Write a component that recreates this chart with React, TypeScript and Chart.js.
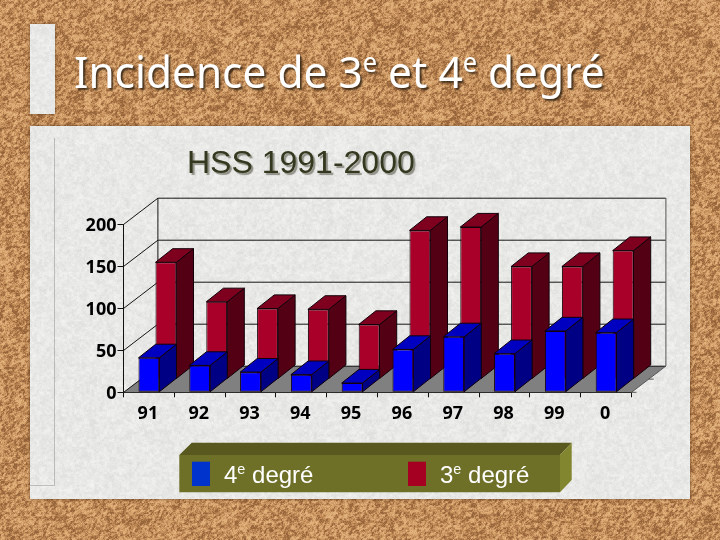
import React, { useEffect, useRef } from "react";
import { Chart, registerables } from "chart.js";

Chart.register(...registerables);

const categories = ["91", "92", "93", "94", "95", "96", "97", "98", "99", "0"];
const quatrieme = [41, 32, 24, 21, 11, 51, 66, 46, 73, 71];
const troisieme = [139, 92, 84, 83, 65, 177, 181, 134, 134, 153];
const yTicks = [0, 50, 100, 150, 200];
const seriesNames = ["4", "3"];
const slideTitle = ["Incidence de 3", " et 4", " degré"];
const chartTitle = "HSS 1991-2000";

const AREA = { left: 123.5, right: 631.5, top: 224.3, bottom: 392.3 };
const WALL = { dx: 34.4, dy: 26.3 };

function hash(x: number, y: number, s: number) {
  let h = (x * 374761393 + y * 668265263 + s * 2147483647) | 0;
  h = Math.imul(h ^ (h >>> 13), 1274126177);
  return ((h ^ (h >>> 16)) >>> 0) / 4294967295;
}
function smooth(x: number, y: number, cell: number, s: number) {
  const fx = x / cell, fy = y / cell;
  const ix = Math.floor(fx), iy = Math.floor(fy);
  let tx = fx - ix, ty = fy - iy;
  tx = tx * tx * (3 - 2 * tx);
  ty = ty * ty * (3 - 2 * ty);
  const a = hash(ix, iy, s), b = hash(ix + 1, iy, s), c = hash(ix, iy + 1, s), d = hash(ix + 1, iy + 1, s);
  return (a * (1 - tx) + b * tx) * (1 - ty) + (c * (1 - tx) + d * tx) * ty;
}

function makeCork(w: number, h: number) {
  const c = document.createElement("canvas");
  c.width = w; c.height = h;
  const g = c.getContext("2d")!;
  const img = g.createImageData(w, h);
  const dark = [150, 100, 58], mid = [196, 142, 90], light = [226, 178, 124];
  for (let y = 0; y < h; y++) for (let x = 0; x < w; x++) {
    const v = 0.3 * hash(x, y, 1) + 0.55 * smooth(x + y * 0.4, y, 2.2, 2) + 0.15 * smooth(x, y, 8, 3);
    const t = Math.min(1, Math.max(0, (v - 0.25) / 0.5));
    const from = t < 0.5 ? dark : mid, to = t < 0.5 ? mid : light;
    const k = t < 0.5 ? t * 2 : t * 2 - 1;
    const i = (y * w + x) * 4;
    for (let n = 0; n < 3; n++) img.data[i + n] = from[n] + (to[n] - from[n]) * k;
    img.data[i + 3] = 255;
  }
  g.putImageData(img, 0, 0);
  return c;
}
function makePaper(w: number, h: number) {
  const c = document.createElement("canvas");
  c.width = w; c.height = h;
  const g = c.getContext("2d")!;
  const img = g.createImageData(w, h);
  for (let y = 0; y < h; y++) for (let x = 0; x < w; x++) {
    const v = 0.3 * hash(x, y, 5) + 0.5 * smooth(x, y, 2.5, 6) + 0.2 * smooth(x, y, 7, 7);
    const l = 231 + (v - 0.5) * 28;
    const i = (y * w + x) * 4;
    img.data[i] = l + 1; img.data[i + 1] = l + 1; img.data[i + 2] = l - 1; img.data[i + 3] = 255;
  }
  g.putImageData(img, 0, 0);
  return c;
}
function poly(ctx: CanvasRenderingContext2D, pts: number[][], fill: string | null, stroke: string | null) {
  ctx.beginPath();
  pts.forEach((p, i) => (i ? ctx.lineTo(p[0], p[1]) : ctx.moveTo(p[0], p[1])));
  ctx.closePath();
  if (fill) { ctx.fillStyle = fill; ctx.fill(); }
  if (stroke) { ctx.strokeStyle = stroke; ctx.lineWidth = 1; ctx.stroke(); }
}

const faces = [
  { front: "#0000FF", top: "#0000C0", side: "#000084", ox: 0, oy: 0 },
  { front: "#A80028", top: "#7E001E", side: "#540014", ox: 17, oy: 13.2 },
];

export default function App() {
  const ref = useRef<HTMLCanvasElement>(null);
  useEffect(() => {
    document.body.style.overflow = "hidden";
    const cork = makeCork(720, 540);
    const paper = makePaper(720, 540);
    const scene = {
      id: "scene",
      beforeDraw(chart: any) {
        const ctx: CanvasRenderingContext2D = chart.ctx;
        ctx.save();
        ctx.drawImage(cork, 0, 0);
        ctx.save();
        ctx.shadowColor = "rgba(70,40,15,0.7)";
        ctx.shadowBlur = 3;
        ctx.fillStyle = "#e4e4e2";
        ctx.fillRect(30, 126, 660, 373);
        ctx.fillRect(30, 24, 25, 90);
        ctx.restore();
        ctx.drawImage(paper, 30, 126, 660, 373, 30, 126, 660, 373);
        ctx.drawImage(paper, 30, 24, 25, 90, 30, 24, 25, 90);
        ctx.strokeStyle = "rgba(150,150,150,0.55)";
        ctx.lineWidth = 1;
        ctx.beginPath();
        ctx.moveTo(54.5, 138); ctx.lineTo(54.5, 485.5); ctx.lineTo(30, 485.5);
        ctx.stroke();
        // legend plate
        poly(ctx, [[179.3, 455], [191.7, 442.7], [571.7, 442.7], [560, 455]], "#58581F", null);
        poly(ctx, [[560, 455], [571.7, 442.7], [571.7, 480], [560, 492.3]], "#82862F", null);
        poly(ctx, [[179.3, 455], [560, 455], [560, 492.3], [179.3, 492.3]], "#6E7028", null);
        ctx.fillStyle = "#0033CC";
        ctx.fillRect(192, 461.7, 18, 24.3);
        ctx.fillStyle = "#A50021";
        ctx.fillRect(408, 461.7, 18, 24.3);
        ctx.restore();
      },
      beforeDatasetsDraw(chart: any) {
        const ctx: CanvasRenderingContext2D = chart.ctx;
        const { left, right, bottom, top } = chart.chartArea;
        const y = chart.scales.y;
        const { dx, dy } = WALL;
        ctx.save();
        poly(ctx, [[left, bottom], [right, bottom], [right + dx, bottom - dy], [left + dx, bottom - dy]], "#808080", null);
        ctx.strokeStyle = "#151515";
        ctx.lineWidth = 1;
        ctx.beginPath();
        y.ticks.forEach((t: any) => {
          const py = Math.round(y.getPixelForValue(t.value)) + 0.5;
          ctx.moveTo(left, py);
          ctx.lineTo(left + dx, py - dy);
          ctx.lineTo(right + dx, py - dy);
        });
        ctx.moveTo(left + dx, top - dy);
        ctx.lineTo(left + dx, bottom - dy);
        ctx.stroke();
        ctx.strokeStyle = "#555";
        ctx.beginPath();
        ctx.moveTo(right + dx, top - dy);
        ctx.lineTo(right + dx, bottom - dy);
        ctx.lineTo(right, bottom);
        ctx.moveTo(right + dx / 2, bottom - dy / 2);
        ctx.lineTo(right + dx / 2 + 5, bottom - dy / 2);
        ctx.moveTo(right, bottom);
        ctx.lineTo(right + 5, bottom);
        ctx.stroke();
        ctx.restore();
      },
      beforeDatasetDraw(chart: any, args: any) {
        const ctx: CanvasRenderingContext2D = chart.ctx;
        const f = faces[args.index];
        const dx = WALL.dx / 2, dy = WALL.dy / 2 + 0.5;
        ctx.save();
        ctx.translate(f.ox, -f.oy);
        ctx.lineJoin = "round";
        args.meta.data.forEach((el: any) => {
          const l = el.x - el.width / 2, r = el.x + el.width / 2;
          poly(ctx, [[r, el.y], [r + dx, el.y - dy], [r + dx, el.base - dy], [r, el.base]], f.side, "#12000a");
          poly(ctx, [[l, el.y], [l + dx, el.y - dy], [r + dx, el.y - dy], [r, el.y]], f.top, "#12000a");
        });
      },
      afterDatasetDraw(chart: any) {
        chart.ctx.restore();
      },
    };
    const tickFont = { family: "'Noto Sans'", size: 18, weight: "bold" as const };
    const chart = new Chart(ref.current!, {
      type: "bar",
      data: {
        labels: categories,
        datasets: [
          { label: seriesNames[0] + "e degré", data: quatrieme, backgroundColor: faces[0].front, borderColor: "#12000a", borderWidth: 1, borderSkipped: false, clip: false as any },
          { label: seriesNames[1] + "e degré", data: troisieme, backgroundColor: faces[1].front, borderColor: "#12000a", borderWidth: 1, borderSkipped: false, clip: false as any },
        ],
      },
      options: {
        responsive: false,
        animation: false,
        devicePixelRatio: 1,
        layout: { padding: { top: AREA.top, left: 0, right: 720 - AREA.right, bottom: 540 - AREA.bottom - 40 } },
        plugins: { legend: { display: false }, tooltip: { enabled: false }, title: { display: false } },
        datasets: { bar: { grouped: false, categoryPercentage: 1, barPercentage: 0.41 } },
        scales: {
          x: {
            offset: true,
            grid: { drawOnChartArea: false, drawTicks: true, tickLength: 5, color: "#111", offset: true },
            border: { color: "#111", display: true },
            ticks: { color: "#000", font: tickFont, padding: 6, maxRotation: 0, autoSkip: false, labelOffset: -1 },
            afterFit: (s: any) => { s.height = 40; },
          },
          y: {
            min: yTicks[0],
            max: yTicks[yTicks.length - 1],
            afterBuildTicks: (s: any) => { s.ticks = yTicks.map((value) => ({ value })); },
            grid: { drawOnChartArea: false, drawTicks: true, tickLength: 6, color: "#111" },
            border: { color: "#111", display: true },
            ticks: { color: "#000", font: tickFont, padding: 1, labelOffset: 1.5 },
            afterFit: (s: any) => { s.width = AREA.left; },
          },
        },
      },
      plugins: [scene],
    } as any);
    return () => chart.destroy();
  }, []);

  const sup: React.CSSProperties = { fontSize: "0.6em", verticalAlign: "0.62em", lineHeight: 0 };
  const textBase: React.CSSProperties = { position: "absolute", whiteSpace: "pre", margin: 0 };
  return (
    <div style={{ position: "fixed", left: 0, top: 0, width: 720, height: 540, overflow: "hidden" }}>
      <canvas ref={ref} width={720} height={540} style={{ position: "absolute", left: 0, top: 0, width: 720, height: 540 }} />
      <div style={{ ...textBase, left: 74, top: 41, fontFamily: "'Noto Sans'", fontSize: 44, lineHeight: "60px", color: "#fff", textShadow: "2px 2px 2px rgba(45,30,15,0.85)", transform: "scaleX(0.964)", transformOrigin: "0 0" }}>
        {slideTitle[0]}<span style={sup}>e</span>{slideTitle[1]}<span style={sup}>e</span>{slideTitle[2]}
      </div>
      <div style={{ ...textBase, left: 187, top: 143, fontFamily: "'Liberation Sans'", fontSize: 32, lineHeight: "38px", color: "#34381E", textShadow: "2px 2px 1px rgba(120,120,110,0.8)" }}>
        {chartTitle}
      </div>
      <div style={{ ...textBase, left: 224, top: 460, fontFamily: "'Liberation Sans'", fontSize: 24, lineHeight: "30px", color: "#fff" }}>
        {seriesNames[0]}<span style={sup}>e</span> degré
      </div>
      <div style={{ ...textBase, left: 440, top: 460, fontFamily: "'Liberation Sans'", fontSize: 24, lineHeight: "30px", color: "#fff" }}>
        {seriesNames[1]}<span style={sup}>e</span> degré
      </div>
    </div>
  );
}
